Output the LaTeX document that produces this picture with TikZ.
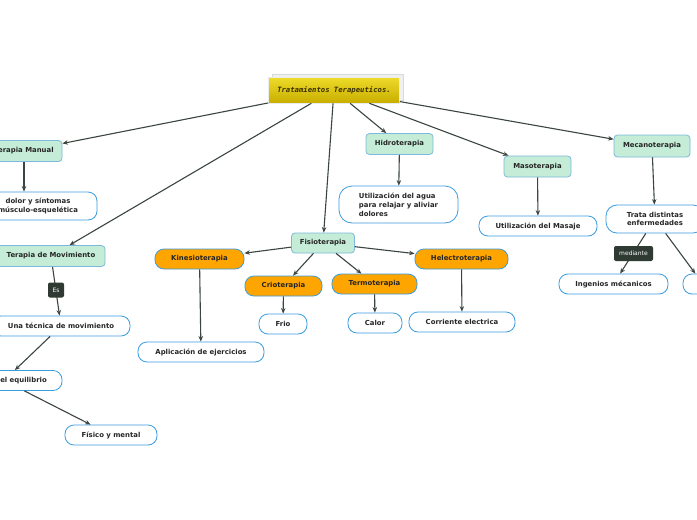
\documentclass[tikz,border=0pt]{standalone}
\usepackage{fontspec}
\setmainfont{DejaVu Sans}
\newfontfamily\rootfont{DejaVu Sans Mono}
\usetikzlibrary{arrows.meta}
\definecolor{mint}{HTML}{C4ECD6}
\definecolor{gborder}{HTML}{7DB9DC}
\definecolor{orng}{HTML}{FFA500}
\definecolor{wborder}{HTML}{3A9DE0}
\definecolor{txt}{HTML}{262626}
\definecolor{linec}{HTML}{3A463E}
\definecolor{labfill}{HTML}{2F3A33}
\definecolor{rootdark}{HTML}{3A3000}
\definecolor{roottop}{HTML}{EEDB2A}
\definecolor{rootbot}{HTML}{C8AE00}
\tikzset{
  base/.style={inner sep=0pt, line width=0.8pt, text=txt, align=center,
    font=\bfseries\fontsize{6.9}{8.8}\selectfont, minimum height=20pt},
  gbox/.style={base, draw=gborder, fill=mint, rounded corners=3.5pt, minimum height=21pt},
  obox/.style={base, draw=wborder, fill=orng, rounded corners=9pt},
  wbox/.style={base, draw=wborder, fill=white, rounded corners=9pt},
  lab/.style={inner sep=0pt, fill=labfill, text=white, rounded corners=2pt,
    font=\fontsize{6}{7}\selectfont, minimum height=15pt},
  con/.style={draw=linec, line width=1.1pt, -{Stealth[length=5.5pt,width=4.5pt]}},
  plain/.style={inner sep=0pt, text=txt, font=\bfseries\fontsize{6.9}{8.8}\selectfont}
}
\begin{document}
\begin{tikzpicture}[x=1pt,y=-1pt]
\useasboundingbox (0,0) rectangle (697,520);
\fill[white] (0,0) rectangle (697,520);

% root
\filldraw[fill=gray!12, draw=gray!30, line width=0.6pt] (272,74) rectangle (403,100);
\node[inner sep=0pt, minimum width=131pt, minimum height=26pt, draw=white!85!gray,
  line width=0.6pt, top color=roottop, bottom color=rootbot,
  text=rootdark, font=\rootfont\bfseries\itshape\fontsize{7.25}{8}\selectfont]
  (root) at (334,90) {Tratamientos Terapeuticos.};

% left branch
\node[gbox, minimum width=76pt] (manual) at (24,151) {Terapia Manual};
\node[wbox, minimum width=118pt, minimum height=28pt] (dolor) at (38,206) {dolor y síntomas\\músculo-esquelética};
\node[gbox, minimum width=108pt] (movim) at (51,256) {Terapia de Movimiento};
\node[wbox, minimum width=138pt] (tecnica) at (61,326) {Una técnica de movimiento};
\node[wbox, minimum width=116pt] (equil) at (4,380.5) {};
\node[plain, anchor=east] (equiltxt) at (47,381) {el equilibrio};
\node[wbox, minimum width=92pt] (fisico) at (111,435) {Físico y mental};

% fisioterapia
\node[gbox, minimum width=63pt, minimum height=20pt] (fisio) at (323,243) {Fisioterapia};
\node[obox, minimum width=89pt] (kine) at (199.5,259) {Kinesioterapia};
\node[wbox, minimum width=126pt] (aplic) at (201,352) {Aplicación de ejercicios};
\node[obox, minimum width=77pt] (crio) at (283.5,286) {Crioterapia};
\node[wbox, minimum width=48pt] (frio) at (283,324) {Frio};
\node[obox, minimum width=85pt] (termo) at (374.5,284) {Termoterapia};
\node[wbox, minimum width=54pt] (calor) at (375,323) {Calor};
\node[obox, minimum width=93pt] (helec) at (461.5,259) {Helectroterapia};
\node[wbox, minimum width=106pt] (corr) at (462,322) {Corriente electrica};

% hidro, maso, mecano
\node[gbox, minimum width=67pt] (hidro) at (399.5,144) {Hidroterapia};
\node[wbox, minimum width=119pt, minimum height=37pt, rounded corners=13pt, align=left] (agua) at (398.5,204.5) {Utilización del agua\\para relajar y aliviar\\dolores};
\node[gbox, minimum width=67pt] (maso) at (537.5,166.5) {Masoterapia};
\node[wbox, minimum width=118pt] (masaje) at (538,226) {Utilización del Masaje};
\node[gbox, minimum width=76pt, minimum height=22pt] (mecano) at (652,146) {Mecanoterapia};
\node[wbox, minimum width=98pt, minimum height=28pt, rounded corners=11pt] (trata) at (655,219) {Trata distintas\\enfermedades};
\node[wbox, minimum width=109pt] (ingen) at (613.5,284) {Ingenios mécanicos};
\node[wbox, minimum width=40pt] (otro) at (703,284) {};

% connectors
\draw[con] (root) -- (manual);
\draw[con] (root) -- (movim);
\draw[con] (root) -- (fisio);
\draw[con] (root) -- (hidro);
\draw[con] (root) -- (maso);
\draw[con] (root) -- (mecano);
\draw[con] (manual.south) -- (manual.south |- dolor.north);
\draw[con] (movim) -- (tecnica);
\draw[con] (tecnica) -- (equil);
\draw[con] (equil) -- (fisico);
\draw[con] (fisio) -- (kine);
\draw[con] (fisio) -- (crio);
\draw[con] (fisio) -- (termo);
\draw[con] (fisio) -- (helec);
\draw[con] (kine) -- (aplic);
\draw[con] (crio) -- (frio);
\draw[con] (termo) -- (calor);
\draw[con] (helec) -- (corr);
\draw[con] (hidro) -- (agua);
\draw[con] (maso) -- (masaje);
\draw[con] (mecano) -- (trata);
\draw[con] (trata) -- (ingen);
\draw[con] (trata) -- (otro);

% connector labels
\node[lab, minimum width=16pt] (es) at (56,290) {Es};
\node[lab, minimum width=39pt] (med) at (633.5,253.5) {mediante};
\end{tikzpicture}
\end{document}
